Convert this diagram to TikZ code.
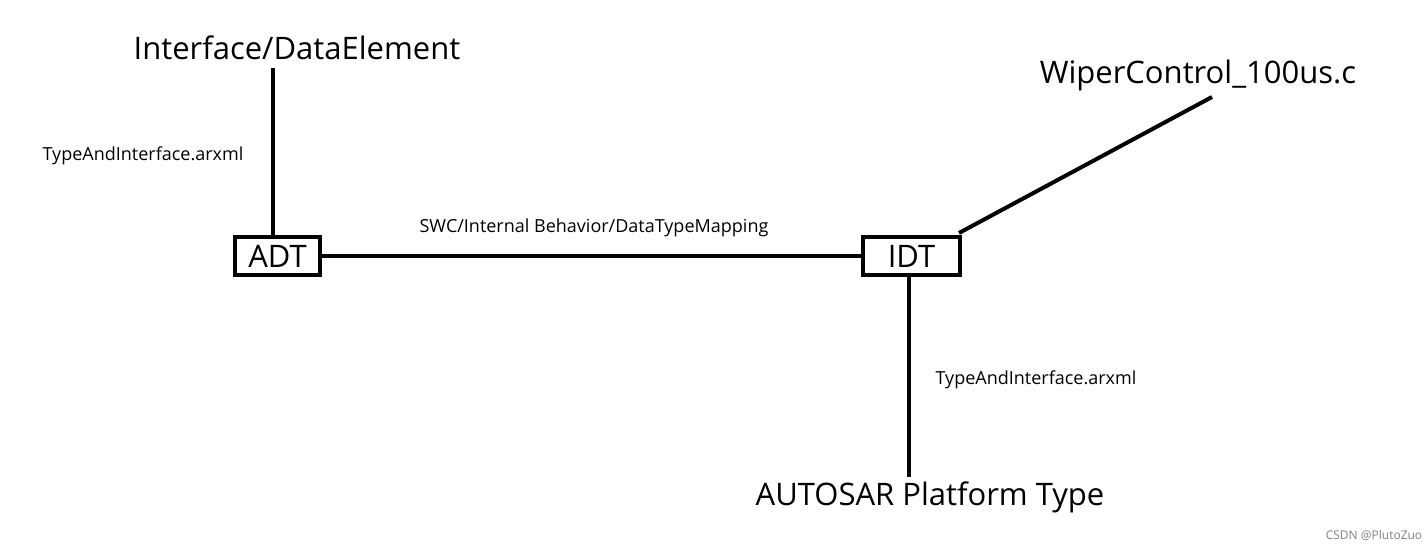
\documentclass[tikz,border=0pt]{standalone}
\usepackage{fontspec}
\setmainfont{Open Sans}
\begin{document}
\begin{tikzpicture}[x=0.5pt,y=-0.5pt,
  big/.style={font=\fontsize{15.5}{18}\selectfont,inner sep=0pt},
  small/.style={font=\fontsize{9}{11}\selectfont,inner sep=0pt},
  box/.style={draw,line width=2pt,minimum height=19pt,inner sep=0pt,font=\fontsize{15.5}{18}\selectfont},
  conn/.style={line width=2pt}]
\useasboundingbox (0,0) rectangle (1425,549);
\node[big] (ide) at (297,48) {Interface/DataElement};
\node[box,minimum width=42.5pt] (adt) at (277.5,256) {ADT};
\node[box,minimum width=48.5pt] (idt) at (911.5,256) {IDT};
\node[big] (wc) at (1198,75) {WiperControl\_100us.c};
\node[big] (apt) at (930,497) {AUTOSAR Platform Type};
\node[small] (l1) at (143,156) {TypeAndInterface.arxml};
\node[small] (l2) at (594,228) {SWC/Internal Behavior/DataTypeMapping};
\node[small] (l3) at (1036,380) {TypeAndInterface.arxml};
\node[font=\fontsize{6}{7}\selectfont,text=gray,inner sep=0pt] (wm) at (1374,535) {CSDN @PlutoZuo};
\coordinate (ideb) at (273,68);
\coordinate (wcb) at (1212,97);
\coordinate (aptt) at (909,477);
\draw[conn] (ideb) -- (adt.north -| ideb);
\draw[conn] (adt.east) -- (idt.west);
\draw[conn] (idt.north east) ++(-3,-2) -- (wcb);
\draw[conn] (idt.south -| aptt) -- (aptt);
\end{tikzpicture}
\end{document}
